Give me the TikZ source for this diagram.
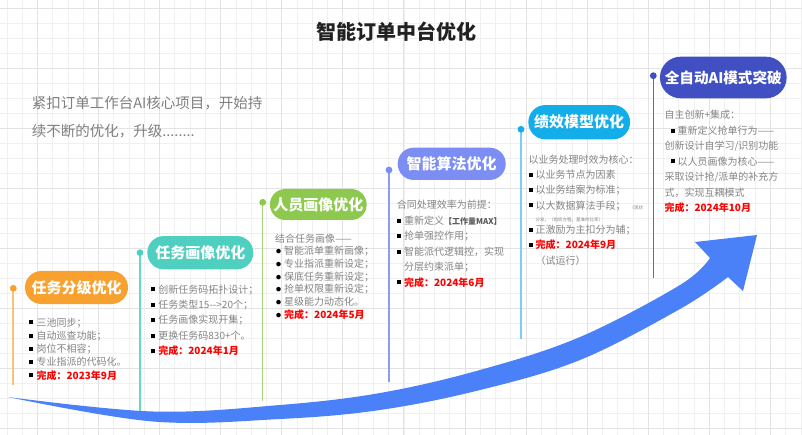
\documentclass[tikz,border=0pt]{standalone}
\usepackage{fontspec}
\setmainfont{Noto Sans CJK SC}
\usepackage{xcolor}

\definecolor{cOne}{HTML}{F9A12E}   \definecolor{lOne}{HTML}{F8C27B}
\definecolor{cTwo}{HTML}{4FCFBF}   \definecolor{lTwo}{HTML}{6AD6C8}
\definecolor{cThree}{HTML}{8DC94E} \definecolor{lThree}{HTML}{A9D67A}
\definecolor{cFour}{HTML}{7C8DF4}  \definecolor{lFour}{HTML}{8D9BF2}
\definecolor{cFive}{HTML}{13ADEA}  \definecolor{lFive}{HTML}{7AD0F4}
\definecolor{cSix}{HTML}{4050C2}   \definecolor{lSix}{HTML}{5A68C8}
\definecolor{arrowblue}{HTML}{4A80F8}
\definecolor{itemgray}{HTML}{858585}

\newcommand{\sq}{{\color{black}\rule[0.17em]{0.4em}{0.4em}}\hspace{0.32em}}
\newcommand{\db}{\hspace{1pt}{\color{black}\raisebox{0.12em}{\fontsize{5}{5}\selectfont●}}\hspace{3pt}}
\newcommand{\done}[1]{{\color{red}\bfseries #1}}

\begin{document}
\begin{tikzpicture}[x=1pt,y=-1pt,
    gridminor/.style={draw=black!6,line width=0.6pt},
    gridmajor/.style={draw=black!11,line width=0.8pt},
    pill/.style={rounded corners=#1,text=white,inner sep=0,
      font=\fontsize{15}{18}\selectfont\bfseries},
    items/.style={anchor=north west,align=left,inner sep=0,text=itemgray,
      font=\fontsize{10}{#1}\selectfont}]
  \useasboundingbox (0,0) rectangle (802,435);
  \fill[white] (0,0) rectangle (802,435);
  \foreach \i in {0,...,52} {\draw[gridminor] ({6.8+15.27*\i},0) -- ++(0,435);}
  \foreach \j in {0,...,28} {\draw[gridminor] (0,{8+15*\j}) -- ++(802,0);}
  \foreach \i in {2,6,...,50} {\draw[gridmajor] ({6.8+15.27*\i},0) -- ++(0,435);}
  \foreach \j in {0,4,...,28} {\draw[gridmajor] (0,{8+15*\j}) -- ++(802,0);}

  \node[font=\fontsize{20}{24}\selectfont\bfseries,text=black!87] (title) at (396,32) {智能订单中台优化};
  \node[anchor=north west,align=left,inner sep=0,text=black!50,
    font=\fontsize{14.5}{28}\selectfont] (intro) at (31.7,96)
    {紧扣订单工作台AI核心项目，开始持\\续不断的优化，升级........};

  \coordinate (d1) at (13.3,288.3); \coordinate (e1) at (13.3,385);
  \coordinate (d2) at (140,252.7);  \coordinate (e2) at (140,411);
  \coordinate (d3) at (262.7,202.3); \coordinate (e3) at (262.7,401);
  \coordinate (d4) at (389,170);    \coordinate (e4) at (389,381.7);
  \coordinate (d5) at (521,129.3);  \coordinate (e5) at (521,339.3);
  \coordinate (d6) at (653.3,75.7); \coordinate (e6) at (653.3,277.7);
  \draw[lOne,line width=2pt] (d1) -- (e1); \draw[lTwo,line width=1.4pt] (d2) -- (e2);
  \draw[lThree,line width=1.5pt] (d3) -- (e3); \draw[lFour,line width=1.3pt] (d4) -- (e4);
  \draw[lFive,line width=2.5pt] (d5) -- (e5); \draw[lSix,line width=1.5pt] (d6) -- (e6);
  \foreach \p/\c in {d1/cOne,d2/cTwo,d3/cThree,d4/cFour,d5/cFive,d6/cSix} {
    \fill[\c] (\p) circle (3.4pt); }

  \fill[arrowblue] plot[smooth,tension=0.6] coordinates {(8,397) (153,411.5)
    (280,405) (380,393) (480,370) (580,337) (680,285) (710,258)}
    -- (695,242) -- (757,235) -- (743,291) -- (728,277)
    -- plot[smooth,tension=0.6] coordinates {(728,277) (680,309) (580,360)
    (480,390) (380,410) (280,419) (153,421.5) (8,397)} -- cycle;

  \node[pill=16.4pt,fill=cOne,minimum width=103pt,minimum height=33pt] (s1)
    at (76.5,287.5) {任务分级优化};
  \node[pill=16.5pt,fill=cTwo,minimum width=106pt,minimum height=33.3pt] (s2)
    at (200.3,252.7) {任务画像优化};
  \node[pill=15.4pt,fill=cThree,minimum width=96.7pt,minimum height=31pt] (s3)
    at (318.3,204.5) {人员画像优化};
  \node[pill=16pt,fill=cFour,minimum width=108pt,minimum height=32.3pt] (s4)
    at (451.7,163.8) {智能算法优化};
  \node[pill=17pt,fill=cFive,minimum width=101.7pt,minimum height=34.3pt] (s5)
    at (579.2,122.2) {绩效模型优化};
  \node[pill=20.7pt,fill=cSix,minimum width=126.7pt,minimum height=41.6pt,
    font=\fontsize{14.6}{18}\selectfont\bfseries] (s6) at (723.3,77.5) {全自动AI模式突破};

  \node[items=13.25] (t1) at (29.2,317.5) {\sq 三池同步；\\ \sq 自动巡查功能；\\
    \sq 岗位不相容；\\ \sq 专业指派的代码化。\\ \sq \done{完成：2023年9月}};
  \node[items=15.4] (t2) at (151,284.5) {\sq 创新任务码拓扑设计；\\
    \sq 任务类型15{-}{-}>20个；\\ \sq 任务画像实现开集；\\ \sq 更换任务码830+个。\\
    \sq \done{完成：2024年1月}};
  \node[items=12.7] (t3) at (275,233.5) {结合任务画像——\\ \db 智能派单重新画像；\\
    \db 专业指派重新设定；\\ \db 保底任务重新设定；\\ \db 抢单权限重新设定；\\
    \db 星级能力动态化。\\ \db \done{完成：2024年5月}};
  \node[items=15.46] (t4) at (396.7,200.2) {合同处理效率为前提：\\
    \sq 重新定义{\fontsize{8}{10}\selectfont\bfseries\color{black!65}【工作量MAX】}\\
    \sq 抢单强控作用；\\ \sq 智能派代逻辑控，实现\\ \phantom{\sq}分层约束派单；\\
    \sq \done{完成：2024年6月}};
  \node[items=15.3] (t5) at (528.3,154.5) {以业务处理时效为核心：\\
    \sq 以业务节点为因素\\ \sq 以业务结案为标准；\\
    \sq 以大数据算法手段；\hspace{4pt}{\fontsize{4.5}{5}\selectfont（现状}\\[-3pt]
    \phantom{\sq}{\fontsize{4.5}{5}\selectfont 分发，（组织方程，基准时比率）}\\[-3pt]
    \sq 正激励为主扣分为辅；\\ \sq \done{完成：2024年9月}\\ \phantom{\sq}（试运行）};
  \node[items=15.45] (t6) at (664.3,110.2) {自主创新+集成：\\
    \hspace{6pt}\sq 重新定义抢单行为——\\ 创新设计自学习/识别功能\\
    \hspace{6pt}\sq 以人员画像为核心——\\ 采取设计抢/派单的补充方\\
    式，实现互耦模式\\ \done{完成：2024年10月}};
\end{tikzpicture}
\end{document}
